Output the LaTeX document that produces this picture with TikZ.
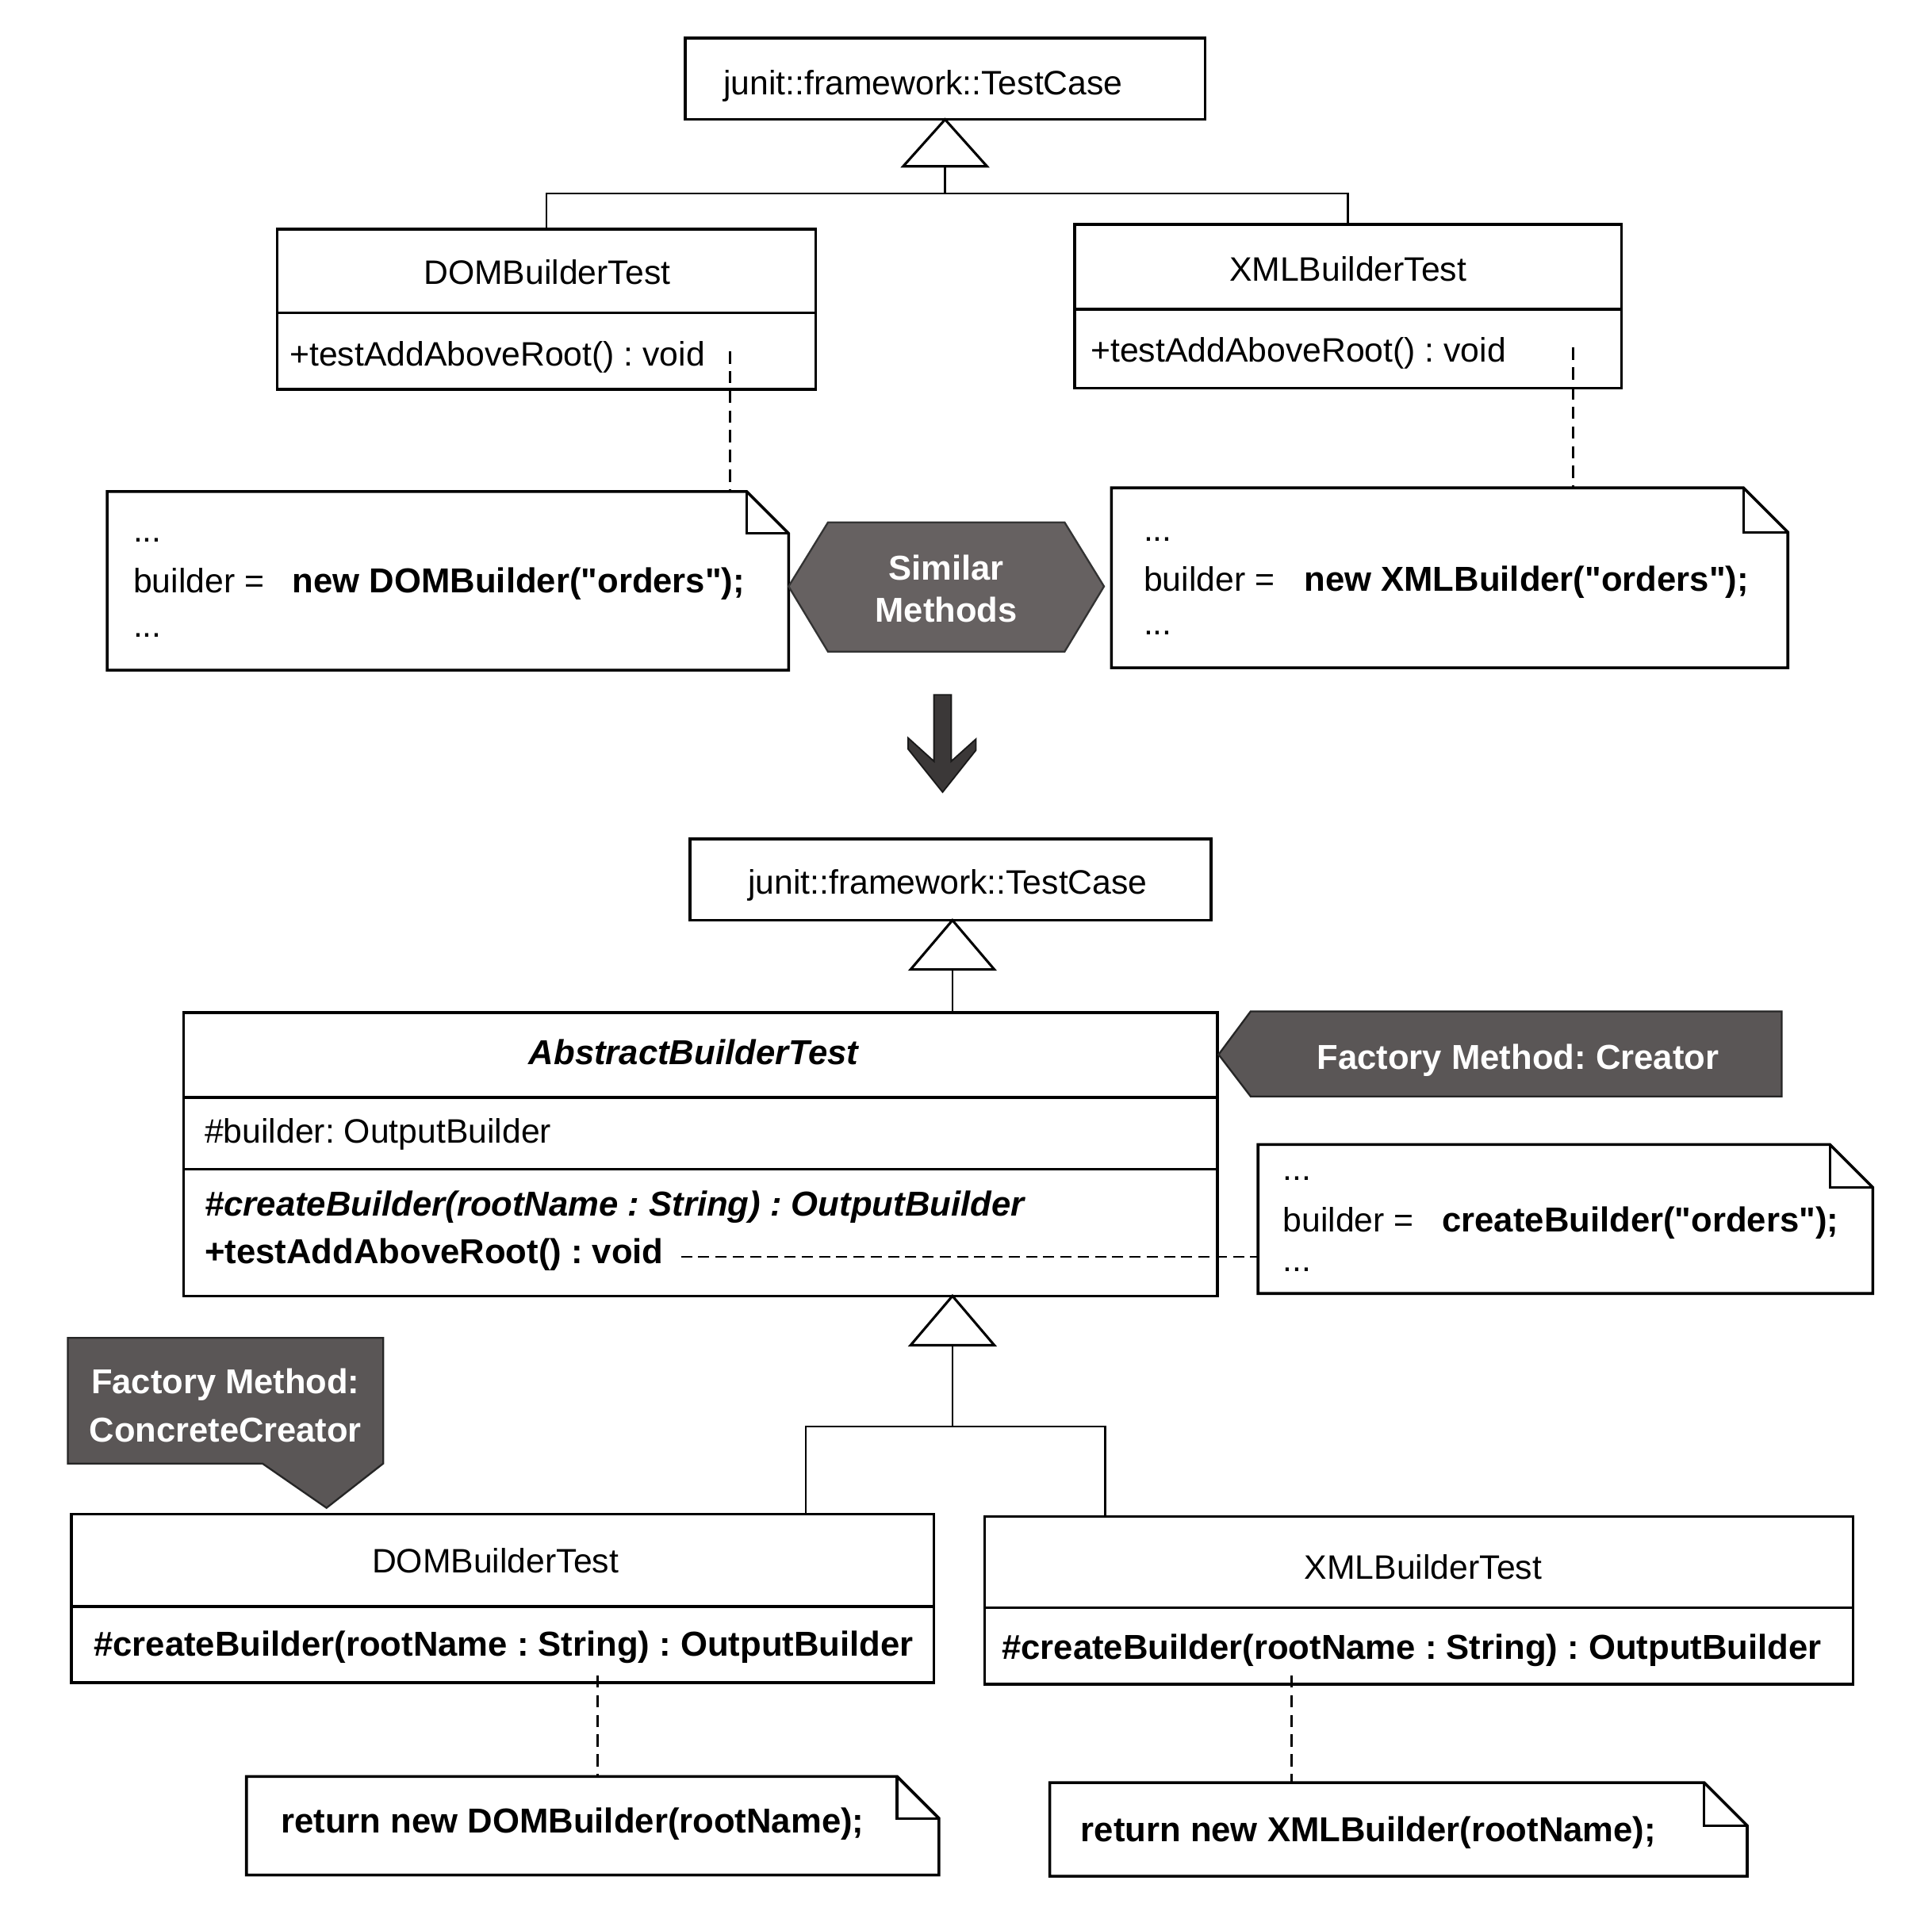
\documentclass[tikz,border=0pt]{standalone}
\usepackage{fontspec}
\setmainfont{Liberation Sans}
\newfontfamily\lsans{Liberation Sans}
\definecolor{calloutgray}{HTML}{5A5656}
\definecolor{hexgray}{HTML}{666161}
\definecolor{arrowgray}{HTML}{3B3838}
\newcommand\notedraw[2]{%
  \draw[line width=2.3pt, line join=miter, fill=white] (#1.north west) -- ([xshift=-#2pt]#1.north east) -- ([yshift=-#2pt]#1.north east) -- (#1.south east) -- (#1.south west) -- cycle;
  \draw[line width=2pt, line join=miter] ([xshift=-#2pt]#1.north east) -- ([xshift=-#2pt,yshift=-#2pt]#1.north east) -- ([yshift=-#2pt]#1.north east);}
\newcommand\bcode[1]{{\fontsize{28.1pt}{33pt}\selectfont\bfseries #1}}
\begin{document}
\frenchspacing
\begin{tikzpicture}[x=1pt,y=-1pt,
  box/.style={draw, line width=2.3pt, inner sep=0pt, outer sep=0pt, fill=white},
  area/.style={inner sep=0pt, outer sep=0pt},
  txt/.style={inner sep=0pt, font=\lsans\fontsize{27.5pt}{33pt}\selectfont, text height=19.7pt, text depth=0pt},
  btxt/.style={txt, font=\lsans\fontsize{28.1pt}{33pt}\selectfont\bfseries},
  ln/.style={line width=1.8pt},
  dsh/.style={line width=1.8pt, dash pattern=on 10pt off 6pt},
  tri/.style={draw, line width=2pt, fill=white, line join=miter},
  darkfill/.style={fill=calloutgray, draw=black!85, line width=1.5pt, line join=miter},
  wtxt/.style={inner sep=0pt, text=white, align=center, font=\lsans\fontsize{28pt}{36pt}\selectfont\bfseries}
]
\useasboundingbox[fill=white] (0,0) rectangle (1568,1551);

% ---------- upper diagram ----------
\node[box, minimum width=422pt, minimum height=66pt] (tc1) at (767,64) {};
\node[txt, anchor=base west] (tc1t) at (587,77) {junit::framework::TestCase};

\node[box, minimum width=437pt, minimum height=130pt] (dom1) at (443.5,251) {};
\draw[line width=2.3pt] ([yshift=-68pt]dom1.north west) -- ([yshift=-68pt]dom1.north east);
\node[txt, anchor=base] (dom1t) at (444,231) {DOMBuilderTest};
\node[txt, anchor=base west] (dom1m) at (235,297) {+testAddAboveRoot() : void};

\node[box, minimum width=444pt, minimum height=133pt] (xml1) at (1094,248.5) {};
\draw[line width=2.3pt] ([yshift=-69pt]xml1.north west) -- ([yshift=-69pt]xml1.north east);
\node[txt, anchor=base] (xml1t) at (1094,228) {XMLBuilderTest};
\node[txt, anchor=base west] (xml1m) at (885,294) {+testAddAboveRoot() : void};

% generalization
\coordinate (t1) at ([yshift=-38pt]tc1.south);
\draw[ln] (t1) -- ++(0,22) -| (dom1.north);
\draw[ln] (t1) -- ++(0,22) -| (xml1.north);
\draw[tri] (tc1.south) -- ([xshift=-34pt]t1) -- ([xshift=34pt]t1) -- cycle;

% notes
\node[area, minimum width=553pt, minimum height=145pt] (note1) at (363.5,471.5) {};
\notedraw{note1}{34}
\node[txt, anchor=base west] (n1a) at (108,440) {...};
\node[txt, anchor=base west] (n1b) at (108,481) {builder =\hspace{23pt}\bcode{new DOMBuilder("orders");}};
\node[txt, anchor=base west] (n1c) at (108,517) {...};

\node[area, minimum width=549pt, minimum height=146pt] (note2) at (1176.5,469) {};
\notedraw{note2}{36}
\node[txt, anchor=base west] (n2a) at (928,439) {...};
\node[txt, anchor=base west] (n2b) at (928,480) {builder =\hspace{24pt}\bcode{new XMLBuilder("orders");}};
\node[txt, anchor=base west] (n2c) at (928,515) {...};

\draw[dsh] ([xshift=20pt,yshift=2pt]dom1m.east) coordinate (s1) -- (s1 |- note1.north);
\draw[dsh] ([xshift=54pt,yshift=2pt]xml1m.east) coordinate (s2) -- (s2 |- note2.north);

% similar methods hexagon
\draw[fill=hexgray, draw=black!80, line width=1.5pt, line join=miter] (640,476) -- (672,424) -- (864,424) -- (896,476) -- (864,529) -- (672,529) -- cycle;
\node[wtxt, font=\lsans\fontsize{28pt}{34pt}\selectfont\bfseries] (sim) at (768,478) {Similar\\Methods};

% big arrow
\draw[fill=arrowgray, draw=black!90, line width=1.2pt, line join=miter]
  (758,564) -- (772,564) -- (772,618) -- (792,600) -- (792,609) -- (765,643) -- (737,608) -- (737,599) -- (758,618) -- cycle;

% ---------- lower diagram ----------
\node[box, minimum width=423pt, minimum height=66pt] (tc2) at (771.5,714) {};
\node[txt, anchor=base west] (tc2t) at (607,726) {junit::framework::TestCase};

\node[box, minimum width=839pt, minimum height=230pt] (abs) at (568.5,937) {};
\draw[line width=2.3pt] ([yshift=-69pt]abs.north west) -- ([yshift=-69pt]abs.north east);
\draw[line width=2.3pt] ([yshift=-127pt]abs.north west) -- ([yshift=-127pt]abs.north east);
\node[txt, anchor=base, font=\lsans\fontsize{28.1pt}{33pt}\selectfont\bfseries\itshape] (abst) at (563,864) {AbstractBuilderTest};
\node[txt, anchor=base west] (absa) at (166,928) {\#builder: OutputBuilder};
\node[txt, anchor=base west, font=\lsans\fontsize{28.1pt}{33pt}\selectfont\bfseries\itshape] (absm1) at (166,987) {\#createBuilder(rootName : String) : OutputBuilder};
\node[btxt, anchor=base west] (absm2) at (166,1026) {+testAddAboveRoot() : void};

\coordinate (t2) at ([xshift=1.5pt,yshift=-40pt]tc2.south);
\draw[ln] (t2) -- (t2 |- abs.north);
\draw[tri] ([xshift=1.5pt]tc2.south) -- ([xshift=-34pt]t2) -- ([xshift=34pt]t2) -- cycle;

% factory method creator pentagon
\draw[darkfill] (989,856) -- (1015,821) -- (1446,821) -- (1446,890) -- (1015,890) -- cycle;
\node[btxt, text=white] (fmc) at (1232,858) {Factory Method: Creator};

% note 3
\node[area, minimum width=499pt, minimum height=121pt] (note3) at (1270.5,989.5) {};
\notedraw{note3}{35}
\node[txt, anchor=base west] (n3a) at (1041,958) {...};
\node[txt, anchor=base west] (n3b) at (1041,1000) {builder =\hspace{23pt}\bcode{createBuilder("orders");}};
\node[txt, anchor=base west] (n3c) at (1041,1032) {...};

\draw[line width=1.8pt, dash pattern=on 9pt off 5pt] ([xshift=14pt,yshift=-4pt]absm2.east) coordinate (s3) -- (s3 -| note3.west);

% subclasses
\node[box, minimum width=700pt, minimum height=137pt] (dom2) at (408,1297.5) {};
\draw[line width=2.3pt] ([yshift=-75pt]dom2.north west) -- ([yshift=-75pt]dom2.north east);
\node[txt, anchor=base] (dom2t) at (402,1277) {DOMBuilderTest};
\node[btxt, anchor=base west] (dom2m) at (76,1344) {\#createBuilder(rootName : String) : OutputBuilder};

\node[box, minimum width=705pt, minimum height=136pt] (xml2) at (1151.5,1299) {};
\draw[line width=2.3pt] ([yshift=-74pt]xml2.north west) -- ([yshift=-74pt]xml2.north east);
\node[txt, anchor=base] (xml2t) at (1155,1282) {XMLBuilderTest};
\node[btxt, anchor=base west] (xml2m) at (813,1347) {\#createBuilder(rootName : String) : OutputBuilder};

\coordinate (a3) at (abs.south -| t2);
\coordinate (t3) at ([yshift=-40pt]a3);
\coordinate (dropL) at (654,1200);
\coordinate (dropR) at (897,1200);
\draw[ln] (t3) -- ++(0,66) -| (dropL |- dom2.north);
\draw[ln] (t3) -- ++(0,66) -| (dropR |- xml2.north);
\draw[tri] (a3) -- ([xshift=-34pt]t3) -- ([xshift=34pt]t3) -- cycle;

% concrete creator callout
\draw[darkfill] (55,1086) -- (311,1086) -- (311,1188) -- (265,1224) -- (213,1188) -- (55,1188) -- cycle;
\node[wtxt, font=\lsans\fontsize{28pt}{39pt}\selectfont\bfseries] (fmcc) at (183,1141) {Factory Method:\\ConcreteCreator};

% notes 4, 5
\node[area, minimum width=562pt, minimum height=80pt] (note4) at (481,1482) {};
\notedraw{note4}{34}
\node[btxt, anchor=base west] (n4) at (228,1488) {return new DOMBuilder(rootName);};

\node[area, minimum width=566pt, minimum height=76pt] (note5) at (1135,1485) {};
\notedraw{note5}{35}
\node[btxt, anchor=base west] (n5) at (877,1495) {return new XMLBuilder(rootName);};

\coordinate (c4) at (485,1360);
\coordinate (c5) at (1048,1360);
\draw[dsh] (c4) -- (c4 |- note4.north);
\draw[dsh] (c5) -- (c5 |- note5.north);
\end{tikzpicture}
\end{document}
